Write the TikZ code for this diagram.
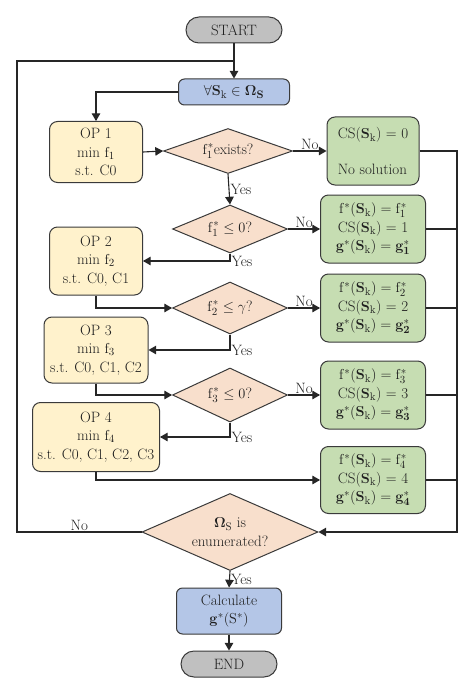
\documentclass[tikz,border=0pt]{standalone}
\usepackage{amsmath}
\usetikzlibrary{
  shapes.geometric,
  arrows
}
\definecolor{termgray}{HTML}{C0C0C0}
\definecolor{procblue}{HTML}{B4C6E7}
\definecolor{opyellow}{HTML}{FFF2CC}
\definecolor{resgreen}{HTML}{C6DDB2}
\definecolor{decpeach}{HTML}{F8DFCC}
\definecolor{edgegray}{HTML}{3A3A3A}
\newcommand{\Sk}{\mathbf{S}_{\mathrm{k}}}
\newcommand{\fs}[1]{\mathrm{f}^{*}_{#1}}
\newcommand{\gs}[1]{\mathbf{g}^{*}_{\mathbf{#1}}}

\begin{document}
\begin{tikzpicture}[
    x=1pt, y=-1pt, >=triangle 60,
    every node/.style={text=black!88, font=\fontsize{15}{18.5}\selectfont},
    term/.style={
      draw=edgegray, line width=1pt, fill=termgray,
      rounded corners=13pt, minimum width=96pt, minimum height=26pt,
      inner sep=0pt
    },
    proc/.style={
      draw=edgegray, line width=1pt, fill=procblue,
      rounded corners=6pt, inner sep=0pt, align=center
    },
    opbox/.style={
      draw=edgegray, line width=1pt, fill=opyellow,
      rounded corners=8pt, inner sep=0pt, align=center,
      minimum height=66pt
    },
    resbox/.style={
      draw=edgegray, line width=1pt, fill=resgreen,
      rounded corners=8pt, inner sep=0pt, align=center,
      minimum width=105pt, minimum height=68pt
    },
    decide/.style={
      diamond, draw=edgegray, line width=1pt, fill=decpeach,
      inner sep=0pt, align=center, aspect=2.5
    },
    link/.style={draw=black!85, line width=1.1pt},
    lbl/.style={inner sep=1pt}
  ]
  \useasboundingbox (0,0) rectangle (474,695);

  % terminals and processes
  \node[term] (start) at (234,30) {START};
  \node[proc, minimum width=111pt, minimum height=26pt] (forall) at (234,92)
    {$\forall\Sk \in \mathbf{\Omega}_{\mathbf{S}}$};
  \node[proc, minimum width=105pt, minimum height=46pt] (calc) at (229,611)
    {Calculate\\$\mathbf{g}^{*}(\mathrm{S}^{*})$};
  \node[term] (stop) at (229,664) {END};

  % optimisation problems
  \node[opbox, minimum width=93pt, minimum height=61pt] (op1) at (96,152)
    {OP 1\\min $\mathrm{f}_1$\\s.t. C0};
  \node[opbox, minimum width=93pt, minimum height=68pt] (op2) at (96,261)
    {OP 2\\min $\mathrm{f}_2$\\s.t. C0, C1};
  \node[opbox, minimum width=104pt] (op3) at (96,350)
    {OP 3\\min $\mathrm{f}_3$\\s.t. C0, C1, C2};
  \node[opbox, minimum width=127pt, minimum height=69pt] (op4) at (96,437)
    {OP 4\\min $\mathrm{f}_4$\\s.t. C0, C1, C2, C3};

  % decisions
  \node[decide, minimum width=129pt, minimum height=45pt] (dec1) at (228,151)
    {$\fs{1}$exists?};
  \node[decide, minimum width=115pt, minimum height=48pt] (dec2) at (230,229)
    {$\fs{1} \leq 0$?};
  \node[decide, minimum width=115pt, minimum height=52pt] (dec3) at (230,308)
    {$\fs{2} \leq \gamma$?};
  \node[decide, minimum width=115pt, minimum height=54pt] (dec4) at (230,395)
    {$\fs{3} \leq 0$?};
  \node[decide, aspect=2.3, minimum width=176pt, minimum height=77pt] (enum) at (230,532)
    {$\mathbf{\Omega}_{\mathrm{S}}$ is\\enumerated?};

  % results
  \node[resbox, minimum width=92pt, align=left] (nosol) at (373,151)
    {CS($\Sk$) = 0\\[17pt]No solution};
  \node[resbox] (res1) at (373,229)
    {$\mathrm{f}^{*}(\Sk) = \fs{1}$\\CS($\Sk$) = 1\\$\mathbf{g}^{*}(\Sk) = \gs{1}$};
  \node[resbox] (res2) at (373,308)
    {$\mathrm{f}^{*}(\Sk) = \fs{2}$\\CS($\Sk$) = 2\\$\mathbf{g}^{*}(\Sk) = \gs{2}$};
  \node[resbox] (res3) at (373,395)
    {$\mathrm{f}^{*}(\Sk) = \fs{3}$\\CS($\Sk$) = 3\\$\mathbf{g}^{*}(\Sk) = \gs{3}$};
  \node[resbox, minimum height=67pt] (res4) at (373,480)
    {$\mathrm{f}^{*}(\Sk) = \fs{4}$\\CS($\Sk$) = 4\\$\mathbf{g}^{*}(\Sk) = \gs{4}$};

  \coordinate (lbus) at (17,61);
  \coordinate (rbus) at (457,532);

  % main flow
  \draw[link,->] (start) -- (forall);
  \draw[link,->] (forall.west) -| (op1.north);
  \draw[link,->] (op1.east) -- (dec1.west);
  \draw[link,->] (dec1.south) -- node[lbl, right] {Yes} (dec2.north);
  \draw[link,->] (dec2.south) |- node[lbl, right] {Yes} (op2.east);
  \draw[link,->] (op2.south) |- (dec3.west);
  \draw[link,->] (dec3.south) |- node[lbl, right] {Yes} (op3.east);
  \draw[link,->] (op3.south) |- (dec4.west);
  \draw[link,->] (dec4.south) |- node[lbl, right] {Yes} (op4.east);
  \draw[link,->] (op4.south) |- (res4.west);

  % no branches
  \draw[link,->] (dec1.east) -- node[lbl, above] {No} (nosol.west);
  \draw[link,->] (dec2.east) -- node[lbl, above] {No} (res1.west);
  \draw[link,->] (dec3.east) -- node[lbl, above] {No} (res2.west);
  \draw[link,->] (dec4.east) -- node[lbl, above] {No} (res3.west);

  % collect results
  \draw[link,->] (nosol.east) -| (rbus) -- (enum.east);
  \draw[link] (res1.east) -- (res1.east -| rbus);
  \draw[link] (res2.east) -- (res2.east -| rbus);
  \draw[link] (res3.east) -- (res3.east -| rbus);
  \draw[link] (res4.east) -- (res4.east -| rbus);

  % loop back
  \draw[link] (enum.west) -| node[lbl, above, pos=0.25] {No} (lbus) -- (start.south |- lbus);
  \draw[link,->] (enum.south) -- node[lbl, right] {Yes} (calc.north);
  \draw[link,->] (calc) -- (stop);
\end{tikzpicture}
\end{document}
